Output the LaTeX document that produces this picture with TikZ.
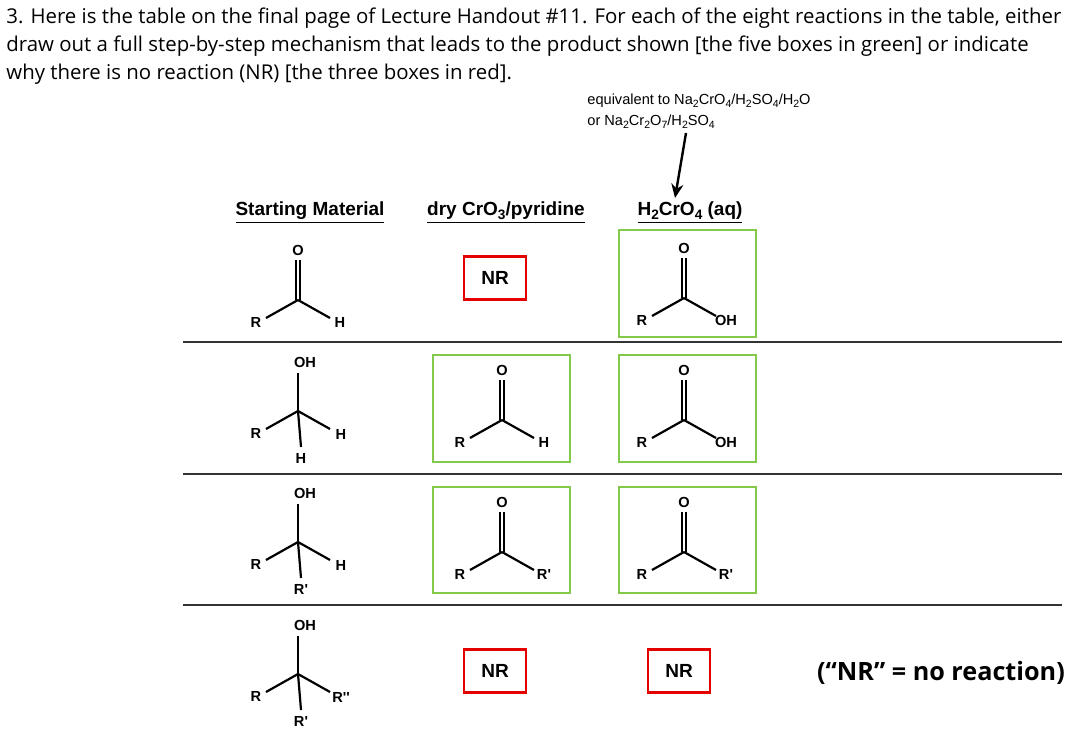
\documentclass[tikz,border=0pt]{standalone}
\usepackage{fontspec}
\usetikzlibrary{arrows.meta,calc}
\setmainfont{Open Sans}
\newfontfamily\arial{Liberation Sans}
\newcommand\sbs[1]{\raisebox{-0.35ex}{\scalebox{0.72}{#1}}}
\begin{document}
\begin{tikzpicture}[x=0.5pt,y=-0.5pt,
  lab/.style={font=\arial\bfseries\fontsize{7.3}{8}\selectfont,inner sep=0pt},
  bond/.style={line width=1.1pt},
  gbox/.style={draw=green!50!black!60!lime!70,line width=1.3pt},
  rbox/.style={draw=red!90!black,line width=1.3pt,minimum width=31pt,minimum height=21.5pt,font=\arial\bfseries\fontsize{9.5}{10}\selectfont},
  hd/.style={font=\arial\bfseries\fontsize{9.5}{10}\selectfont,inner sep=1pt},
  sep/.style={line width=1.3pt,black!80}]
\useasboundingbox (0,0) rectangle (1077,733);
\newcommand\carb[4]{%
  \coordinate (#1c) at (#2,#3);
  \draw[bond] ($(#1c)+(-2,0)$) -- ++(0,-40);
  \draw[bond] ($(#1c)+(2,0)$) -- ++(0,-40);
  \node[lab] (#1o) at ($(#1c)+(0,-50)$) {O};
  \node[lab] (#1l) at ($(#1c)+(-42,22)$) {R};
  \node[lab] (#1r) at ($(#1c)+(42,22)$) {#4};
  \draw[bond] (#1c) -- ($(#1c)+(-32,18)$);
  \draw[bond] (#1c) -- ($(#1c)+(32,18)$);}
\newcommand\alc[5]{%
  \coordinate (#1c) at (#2,#3);
  \draw[bond] (#1c) -- ++(0,-38);
  \node[lab] (#1o) at ($(#1c)+(7,-49)$) {OH};
  \node[lab] (#1l) at ($(#1c)+(-42,22)$) {R};
  \node[lab] (#1r) at ($(#1c)+(43,23)$) {#4};
  \node[lab] (#1d) at ($(#1c)+(3,47)$) {#5};
  \draw[bond] (#1c) -- ($(#1c)+(-32,18)$);
  \draw[bond] (#1c) -- ($(#1c)+(32,18)$);
  \draw[bond] (#1c) -- ($(#1c)+(3,36)$);}
% header text
\begin{scope}[every node/.style={anchor=west,inner sep=0pt,font=\fontsize{10.2}{11}\selectfont}]
\node (t1) at (6,18) {3. Here is the table on the final page of Lecture Handout \#11. For each of the eight reactions in the table, either};
\node (t2) at (6,46) {draw out a full step-by-step mechanism that leads to the product shown [the five boxes in green] or indicate};
\node (t3) at (6,74) {why there is no reaction (NR) [the three boxes in red].};
\end{scope}
\node[anchor=west,inner sep=0pt,font=\arial\fontsize{7.3}{8}\selectfont] (e1) at (587,101) {equivalent to Na\sbs{2}CrO\sbs{4}/H\sbs{2}SO\sbs{4}/H\sbs{2}O};
\node[anchor=west,inner sep=0pt,font=\arial\fontsize{7.3}{8}\selectfont] (e2) at (587,122) {or Na\sbs{2}Cr\sbs{2}O\sbs{7}/H\sbs{2}SO\sbs{4}};
\coordinate (as) at (686,133);
\coordinate (ae) at (675,198);
\draw[line width=1.2pt,-{Stealth[length=7pt,width=6pt]}] (as) -- (ae);
% column headers
\node[hd] (h1) at (310,213) {\underline{Starting Material}};
\node[hd] (h2) at (506,213) {\underline{dry CrO\sbs{3}/pyridine}};
\node[hd] (h3) at (690,213) {\underline{H\sbs{2}CrO\sbs{4} (aq)}};
% separators
\coordinate (s1a) at (183,342); \coordinate (s1b) at (1062,342);
\coordinate (s2a) at (183,474); \coordinate (s2b) at (1062,474);
\coordinate (s3a) at (183,605); \coordinate (s3b) at (1062,605);
\draw[sep] (s1a) -- (s1b); \draw[sep] (s2a) -- (s2b); \draw[sep] (s3a) -- (s3b);
% starting materials
\carb{a}{298}{300}{H}
\alc{b}{298}{411}{H}{H}
\alc{c}{298}{542}{H}{R'}
\alc{d}{298}{674}{R''}{R'}
% boxes
\draw[gbox] (619,230) rectangle (756,337);
\draw[gbox] (433,355) rectangle (570,462);
\draw[gbox] (619,355) rectangle (756,462);
\draw[gbox] (433,487) rectangle (570,593);
\draw[gbox] (619,487) rectangle (756,593);
\node[rbox] (n1) at (495,278) {NR};
\node[rbox] (n2) at (495,671) {NR};
\node[rbox] (n3) at (679,671) {NR};
% products
\carb{p1}{684}{298}{OH}
\carb{p2}{502}{420}{H}
\carb{p3}{684}{420}{OH}
\carb{p4}{502}{552}{R'}
\carb{p5}{684}{552}{R'}
\node[font=\bfseries\fontsize{12.6}{14}\selectfont,inner sep=0pt] (note) at (941,673) {(“NR” = no reaction)};
\end{tikzpicture}
\end{document}
